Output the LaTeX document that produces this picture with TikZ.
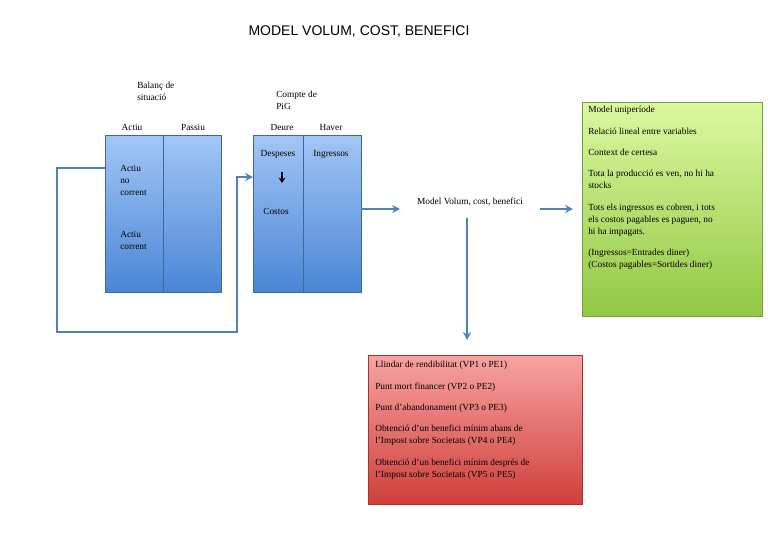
\documentclass[tikz,border=0pt]{standalone}
\usepackage{fontspec}
\setmainfont{Liberation Serif}
\newfontfamily\titlefont{Liberation Sans}
\usetikzlibrary{arrows.meta}
\definecolor{btop}{HTML}{A2C6F6}
\definecolor{bbot}{HTML}{4A86D6}
\definecolor{gtop}{HTML}{DCF8A0}
\definecolor{gbot}{HTML}{92C845}
\definecolor{rtop}{HTML}{F8A3A2}
\definecolor{rbot}{HTML}{CF3F3A}
\definecolor{ln}{HTML}{4F81BD}
\tikzset{
 col/.style={draw=ln!80!black,line width=0.6pt,top color=btop,bottom color=bbot},
 conn/.style={draw=ln,line width=1.2pt},
 arr/.style={conn,-{Stealth[length=6pt,width=6pt]}},
 txt/.style={font=\fontsize{7}{9}\selectfont,inner sep=0pt},
 ltxt/.style={txt,anchor=north west,align=left},
}
\begin{document}
\begin{tikzpicture}[x=0.75pt,y=-0.75pt]
\useasboundingbox (0,0) rectangle (768,543);
\node[font=\titlefont\fontsize{10.5}{12}\selectfont] (title) at (359,32) {MODEL VOLUM, COST, BENEFICI};
% Balanc
\node[ltxt] (bal) at (137,82) {Balanç de\\situació};
\path[col] (105,135) rectangle (163,292);
\path[col] (163,135) rectangle (221,292);
\node[txt] (actiu) at (132,127) {Actiu};
\node[txt] (passiu) at (193,127) {Passiu};
\node[ltxt] (anc) at (120,165) {Actiu\\no\\corrent};
\node[ltxt] (ac) at (120,231) {Actiu\\corrent};
\coordinate (lstart) at (105,168);
% PiG
\node[ltxt] (pig) at (276,91) {Compte de\\PiG};
\path[col] (253,135) rectangle (303,292);
\path[col] (303,135) rectangle (361,292);
\node[txt] (deure) at (282,127) {Deure};
\node[txt] (haver) at (331,127) {Haver};
\node[txt] (desp) at (278,154) {Despeses};
\node[txt] (ingr) at (331,154) {Ingressos};
\node[txt] (cost) at (276,211) {Costos};
\draw[-{Stealth[length=4pt,width=5pt]},line width=1.2pt] (282,172) -- (282,183);
\coordinate (pigin) at (253,177);
\coordinate (pigout) at (361,209);
\draw[arr] (lstart) -- (57,168) -- (57,332) -- (237,332) -- (237,177) -- (pigin);
% model
\node[txt] (model) at (470,202) {Model Volum, cost, benefici};
\draw[arr] (pigout) -- (400,209);
\draw[arr] (540,209) -- (573,209);
\draw[arr] (467,218) -- (467,340);
% green
\path[draw=gbot!80!black,line width=0.5pt,top color=gtop,bottom color=gbot] (582,102) rectangle (762,316);
\node[ltxt] (green) at (588,106) {Model uniperíode\\[7pt]Relació lineal entre variables\\[7pt]Context de certesa\\[7pt]Tota la producció es ven, no hi ha\\stocks\\[7pt]Tots els ingressos es cobren, i tots\\els costos pagables es paguen, no\\hi ha impagats.\\[7pt](Ingressos=Entrades diner)\\(Costos pagables=Sortides diner)};
% red
\path[draw=rbot!80!black,line width=0.5pt,top color=rtop,bottom color=rbot] (368,355) rectangle (582,504);
\node[ltxt] (red) at (375,361) {Llindar de rendibilitat (VP1 o PE1)\\[7pt]Punt mort financer (VP2 o PE2)\\[7pt]Punt d'abandonament (VP3 o PE3)\\[7pt]Obtenció d'un benefici mínim abans de\\l'Impost sobre Societats (VP4 o PE4)\\[7pt]Obtenció d'un benefici mínim després de\\l'Impost sobre Societats (VP5 o PE5)};
\end{tikzpicture}
\end{document}
